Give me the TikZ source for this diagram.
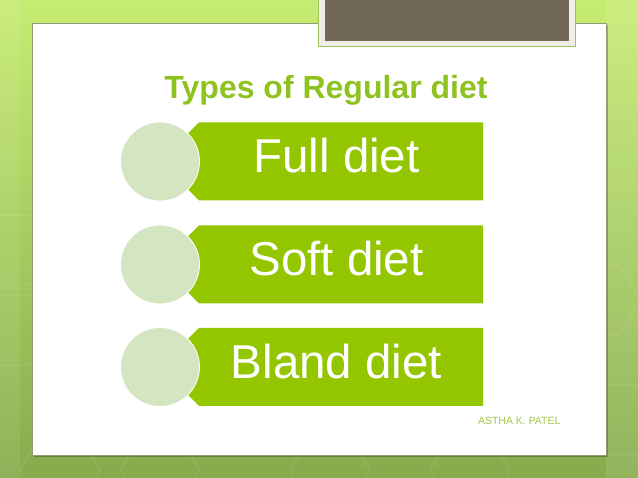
\documentclass[tikz,border=0pt]{standalone}
\usepackage{fontspec}
\setmainfont{Liberation Sans}
\definecolor{bgtop}{HTML}{C6EC72}
\definecolor{bgbot}{HTML}{87AB4C}
\definecolor{boxgreen}{HTML}{94C600}
\definecolor{circfill}{HTML}{D3E5C1}
\definecolor{titlegreen}{HTML}{8DC21F}
\definecolor{tabdark}{HTML}{716858}
\definecolor{tablight}{HTML}{EFEFEA}
\definecolor{tabline}{HTML}{9EC45E}
\definecolor{slideline}{HTML}{8E9C78}
\definecolor{authgreen}{HTML}{A2C84A}
\tikzset{
  every node/.style={inner sep=0pt, outer sep=0pt},
  greenbox/.style={fill=boxgreen, draw=none},
  circ/.style={circle, fill=circfill, draw=white, line width=0.8pt, minimum size=79pt},
  itemtext/.style={text=white, font=\fontsize{47.5}{52}\selectfont, anchor=base},
  pattern line/.style={draw=white, opacity=0.09, line width=1.2pt}
}
\begin{document}
\begin{tikzpicture}[x=1pt, y=-1pt]
\useasboundingbox (0,0) rectangle (638,478);
% background
\shade[top color=bgtop, bottom color=bgbot] (0,0) rectangle (638,478);
\fill[white, opacity=0.10] (606,0) rectangle (638,478);
\fill[white, opacity=0.08] (0,0) rectangle (20,478);
% faint hexagon pattern
\foreach \cx/\cy in {10/250, 10/330, 60/470, 600/300, 620/420, 160/470, 470/470, 330/470} {
  \draw[pattern line] (\cx-40,\cy) -- (\cx-20,\cy-35) -- (\cx+20,\cy-35) -- (\cx+40,\cy) -- (\cx+20,\cy+35) -- (\cx-20,\cy+35) -- cycle;
}
% slide
\fill[black, opacity=0.25] (34,25) rectangle (608,457);
\draw[fill=white, draw=slideline, line width=0.8pt] (32,23) rectangle (606,455);
% top tab
\draw[fill=tablight, draw=tabline, line width=1pt] (318,-5) rectangle (575,47);
\fill[tabdark] (325,-5) rectangle (569,41);
% title
\node[anchor=base, text=titlegreen, font=\fontsize{32}{37}\selectfont\bfseries] (title) at (326,98.5) {Types of Regular diet};
% rows
\foreach \cy/\lab/\nm in {161.5/Full diet/a, 264.5/Soft diet/b, 367/Bland diet/c} {
  \fill[greenbox] (160,\cy) -- (199,\cy-39) -- (483,\cy-39) -- (483,\cy+39) -- (199,\cy+39) -- cycle;
  \node[circ] (circ\nm) at (160,\cy) {};
  \node[itemtext] (text\nm) at (336.5,\cy+11.5) {\lab};
}
% author
\node[anchor=base west, text=authgreen, font=\fontsize{10.5}{12}\selectfont] (author) at (478,425) {ASTHA K. PATEL};
\end{tikzpicture}
\end{document}
